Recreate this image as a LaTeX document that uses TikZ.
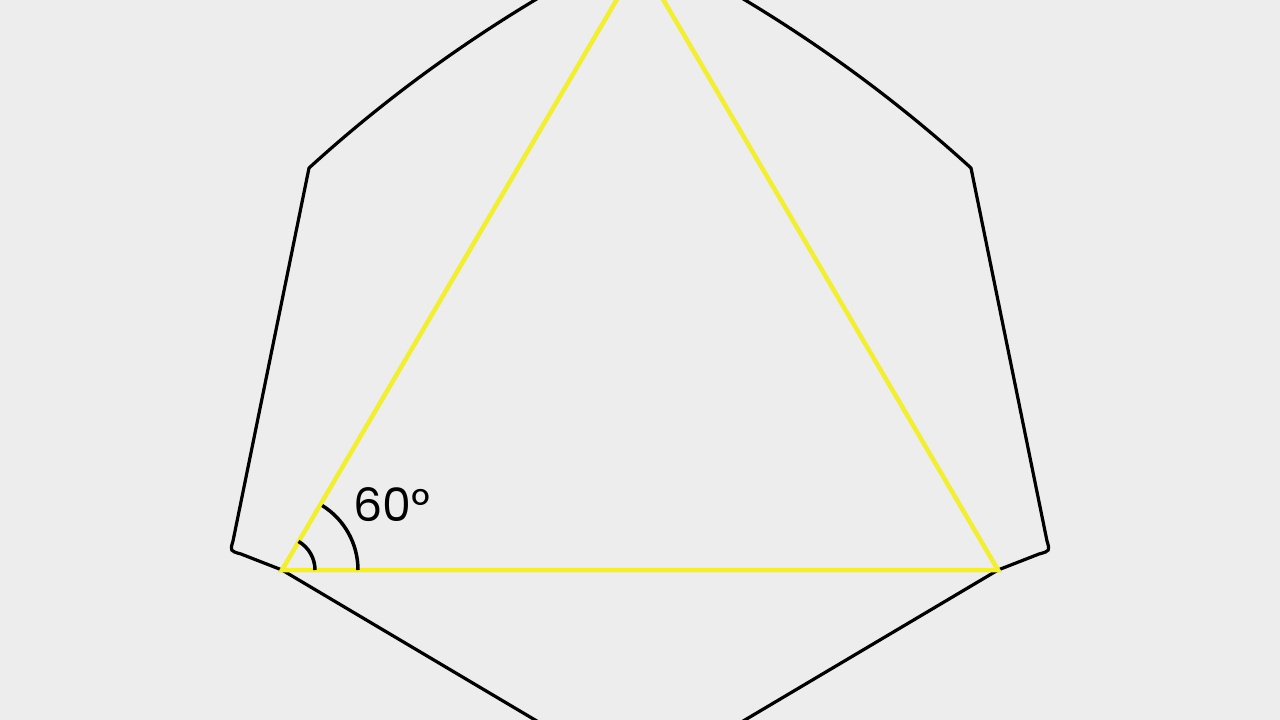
\documentclass[tikz,border=0pt]{standalone}
\usepackage{fontspec}
\usetikzlibrary{calc}
\newfontfamily\labelfont{Poppins}
\definecolor{bg}{HTML}{EDEDED}
\definecolor{yel}{HTML}{F2EE32}
\tikzset{
  outline/.style={draw=black, line width=3.2pt, line join=round, line cap=round},
  tri/.style={draw=yel, line width=4.5pt, line join=miter},
  anglemark/.style={draw=black, line width=3.5pt, line cap=butt},
  lbl/.style={font=\labelfont\fontsize{46}{50}\selectfont, text=black, inner sep=0pt}
}
\begin{document}
\begin{tikzpicture}[x=1pt,y=-1pt]
\useasboundingbox (0,0) rectangle (1280,720);
\fill[bg] (0,0) rectangle (1280,720);
\clip (0,0) rectangle (1280,720);
% coordinates
\coordinate (A) at (282,570);
\coordinate (B) at (998,570);
\coordinate (C) at (640,-40);
% black outline, left half
\draw[outline] (537,-1.2) .. controls (454.4,48.3) and (378.5,104.7) .. (309,168)
  -- (233,541) .. controls (230,551) .. (241,554) -- (A)
  -- (552,730);
% black outline, right half
\draw[outline] (743,-1.2) .. controls (825.6,48.3) and (901.5,104.7) .. (971,168)
  -- (1047,541) .. controls (1050,551) .. (1039,554) -- (B)
  -- (728,730);
% yellow triangle
\draw[tri] (A) -- (B) -- (C) -- cycle;
% angle marks
\draw[anglemark] ($(A)+(33,0)$) arc[start angle=0, end angle=-60, radius=33];
\draw[anglemark] ($(A)+(76,0)$) arc[start angle=0, end angle=-58, radius=76];
\node[lbl] (ang) at (392,505) {60°};
\end{tikzpicture}
\end{document}
